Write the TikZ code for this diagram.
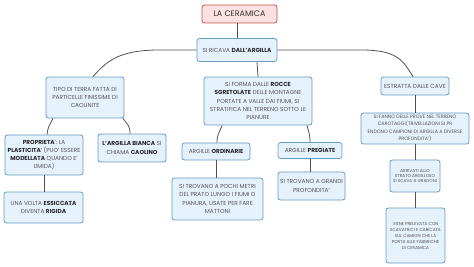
\documentclass[tikz,border=0pt]{standalone}
\usepackage{fontspec}
\setmainfont{Poppins}
\usepackage{xcolor}
\usetikzlibrary{positioning, calc}
\definecolor{boxfill}{HTML}{E5F1FB}
\definecolor{boxline}{HTML}{6A9BC3}
\definecolor{rootfill}{HTML}{FBE1E1}
\definecolor{rootline}{HTML}{C2504C}
\definecolor{txt}{HTML}{555555}
\definecolor{wire}{HTML}{505050}
\newcommand{\kw}[1]{\textbf{\color{black!85}#1}}

\tikzset{
  box/.style={draw=boxline, fill=boxfill, rounded corners=2.5pt, line width=0.8pt,
              align=center, inner sep=1pt, text=txt,
              font=\fontsize{5.8}{8.2}\selectfont},
  smallbox/.style={box, font=\fontsize{4.6}{6}\selectfont},
  rootbox/.style={box, draw=rootline, fill=rootfill, text=black!80,
              font=\fontsize{8}{9}\selectfont},
  link/.style={draw=wire, line width=0.8pt}
}

\begin{document}
\begin{tikzpicture}[x=1pt,y=-1pt]

    \useasboundingbox (0,0) rectangle (474,267);

    % --- Root and first level ---
    \node[rootbox, minimum width=75, minimum height=18] (root) at (239.5,14) {LA CERAMICA};
    \node[box, minimum width=80, minimum height=23] (ricava) at (237,50) {SI RICAVA \kw{DALL'ARGILLA}};

    % --- Second level ---
    \node[box, minimum width=78, minimum height=41] (tipo) at (85,97.5)
        {TIPO DI TERRA FATTA DI\\PARTICELLE FINISSIME DI\\CAOLINITE};
    \node[box, minimum width=108, minimum height=48] (forma) at (258,101)
        {SI FORMA DALLE \kw{ROCCE}\\\kw{SGRETOLATE} DELLE MONTAGNE\\PORTATE A VALLE DAI FIUMI, SI\\STRATIFICA NEL TERRENO SOTTO LE\\PIANURE};
    \node[box, minimum width=68, minimum height=18] (estratta) at (415,86) {ESTRATTA DALLE CAVE};

    % --- Left branch ---
    \node[box, minimum width=78, minimum height=40] (propr) at (44,155)
        {\kw{PROPRIETA}': LA\\\kw{PLASTICITA}' (PUO' ESSERE\\\kw{MODELLATA} QUANDO E'\\UMIDA)};
    \node[box, minimum width=68, minimum height=28] (bianca) at (132,148)
        {\kw{L'ARGILLA BIANCA} SI\\CHIAMA \kw{CAOLINO}};
    \node[box, minimum width=79, minimum height=31] (volta) at (43.5,207.5)
        {UNA VOLTA \kw{ESSICCATA}\\DIVENTA \kw{RIGIDA}};

    % --- Middle branch ---
    \node[box, minimum width=68, minimum height=17] (ordin) at (216,151.5) {ARGILLE \kw{ORDINARIE}};
    \node[box, minimum width=64, minimum height=16] (pregiate) at (310,150.5) {ARGILLE \kw{PREGIATE}};
    \node[box, minimum width=91, minimum height=42] (pochi) at (217.5,199)
        {SI TROVANO A POCHI METRI\\DEL PRATO LUNGO I FIUMI O\\PIANURA, USATE PER FARE\\MATTONI};
    \node[box, minimum width=67, minimum height=28] (grandi) at (311.5,186)
        {SI TROVANO A GRANDI\\PROFONDITA'};

    % --- Right branch ---
    \node[smallbox, minimum width=108, minimum height=31, font=\fontsize{4.8}{7.5}\selectfont] (prove) at (415,128.5)
        {SI FANNO DELLE PROVE NEL TERRENO\\CAROTAGGI(TRIVELLAZIONI SI PR\\ENDONO CAMPIONI DI ARGILLA A DIVERSE\\PROFONDITA')};
    \node[smallbox, minimum width=50, minimum height=32, font=\fontsize{4.3}{5.4}\selectfont] (arrivati) at (415,176)
        {ARRIVATI ALLO\\STRATO ARGILLOSO\\SI SCAVA A GRADONI};
    \node[smallbox, minimum width=59, minimum height=55, font=\fontsize{4.3}{6}\selectfont] (viene) at (415.5,235.5)
        {VIENE PRELEVATA CON\\SCAVATRICI E CARICATA\\SUL CAMION CHE LA\\PORTA ALLE FABBRICHE\\DI CERAMICA};

    % --- Connectors ---
    \draw[link] (ricava.north) -- (ricava.north |- root.south);
    \draw[link] (ricava.west) -- ++(-37,0) .. controls +(-40,0) and +(14,-16) .. ([xshift=8]tipo.north);
    \draw[link] ([xshift=20]ricava.south) .. controls +(0,8) and +(0,-8) .. (forma.north);
    \draw[link] (ricava.east) -- ++(84,0) .. controls +(36,0) and +(-10,-16) .. ([xshift=-2]estratta.north);

    \draw[link] ([xshift=-32]tipo.south) .. controls +(-4,8) and +(1,-8) .. ([xshift=3]propr.north);
    \draw[link] ([xshift=38]tipo.south) .. controls +(5,7) and +(0,-8) .. ([xshift=-2]bianca.north);
    \draw[link] (propr.south) -- (volta.north -| propr.south);

    \draw[link] ([xshift=-36]forma.south) .. controls +(-3,8) and +(0,-8) .. ([xshift=1]ordin.north);
    \draw[link] ([xshift=49]forma.south) .. controls +(2,8) and +(0,-8) .. (pregiate.north);
    \draw[link] (ordin.south) -- (pochi.north -| ordin.south);
    \draw[link] (pregiate.south) -- (grandi.north -| pregiate.south);

    \draw[link] (estratta.south) -- (prove.north -| estratta.south);
    \draw[link] (prove.south) -- (arrivati.north);
    \draw[link] (arrivati.south) -- (viene.north -| arrivati.south);

\end{tikzpicture}
\end{document}
